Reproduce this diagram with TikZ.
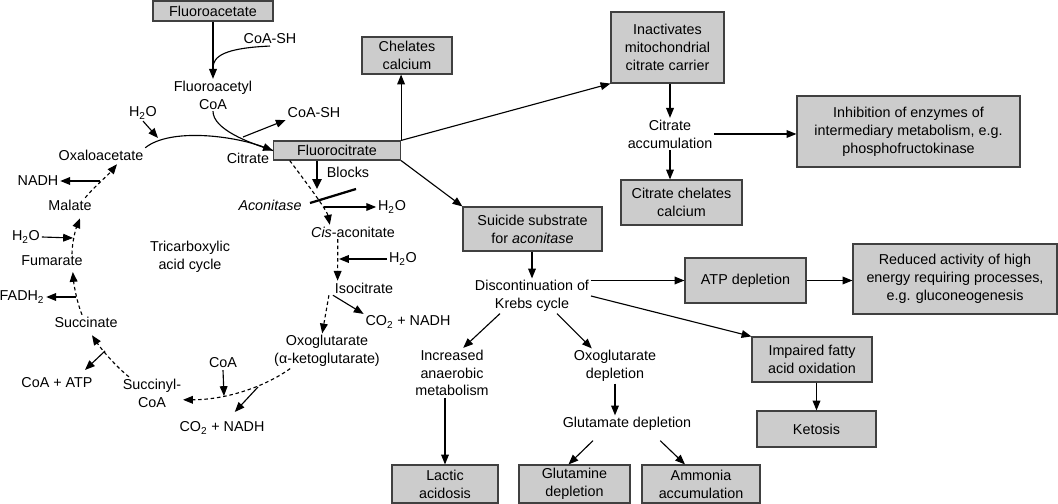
\documentclass[tikz,border=0pt]{standalone}
\usepackage{fontspec}
\setmainfont{Liberation Sans}
\usepackage{tikz}
\usetikzlibrary{arrows.meta}
\definecolor{boxfill}{RGB}{204,204,204}

\begin{document}
\begin{tikzpicture}[x=0.025cm, y=-0.025cm,
			line width=0.8pt,
			every node/.style={font=\fontsize{10.2}{12.7}\selectfont},
			txt/.style={inner sep=1pt, align=center},
			box/.style={draw=black!75, fill=boxfill, inner sep=1pt, align=center},
			arr/.style={-{Triangle[length=7pt,width=5.5pt]}},
			darr/.style={dashed, dash pattern=on 2.5pt off 2pt, -{Triangle[length=7pt,width=5.5pt]}},
			blk/.style={line width=1.6pt, -{Triangle[length=7pt,width=6.5pt]}}]
			\useasboundingbox (0,0) rectangle (1058,504);
			% boxes
			\node (fluoroacetate) at (213,11) [box, minimum width=3cm, minimum height=0.5cm] {Fluoroacetate};
			\node (chelates) at (407,55.5) [box, minimum width=2.25cm, minimum height=0.925cm] {Chelates\\calcium};
			\node (inactivates) at (667.5,47.5) [box, minimum width=2.825cm, minimum height=1.775cm] {Inactivates\\mitochondrial\\citrate carrier};
			\node (citchel) at (681.5,202.5) [box, minimum width=3.025cm, minimum height=1.125cm] {Citrate chelates\\calcium};
			\node (inhibition) at (908.5,131.5) [box, minimum width=5.575cm, minimum height=1.775cm] {Inhibition of enzymes of\\intermediary metabolism, e.g.\\phosphofructokinase};
			\node (fluorocitrate) at (337,150.5) [box, minimum width=3.175cm, minimum height=0.475cm] {Fluorocitrate};
			\node (suicide) at (532.5,229) [box, minimum width=3.475cm, minimum height=1.1cm] {Suicide substrate\\for \textit{aconitase}};
			\node (atp) at (745.5,280.5) [box, minimum width=3.025cm, minimum height=1.125cm] {ATP depletion};
			\node (reduced) at (955,279) [box, minimum width=5.1cm, minimum height=1.75cm] {Reduced activity of high\\energy requiring processes,\\e.g. gluconeogenesis};
			\node (impaired) at (812,359.5) [box, minimum width=3cm, minimum height=1.125cm] {Impaired fatty\\acid oxidation};
			\node (ketosis) at (816.5,429) [box, minimum width=2.975cm, minimum height=0.9cm] {Ketosis};
			\node (lactic) at (445,484) [box, minimum width=2.65cm, minimum height=0.95cm] {Lactic\\acidosis};
			\node (glutamine) at (574.5,484) [box, minimum width=2.775cm, minimum height=0.95cm] {Glutamine\\depletion};
			\node (ammonia) at (701,484) [box, minimum width=2.95cm, minimum height=0.95cm] {Ammonia\\accumulation};
			% plain text
			\node (coash1) at (270,39) [txt] {CoA-SH};
			\node (fluoroacetyl) at (213,95) [txt] {Fluoroacetyl\\CoA};
			\node (coash2) at (314,113) [txt] {CoA-SH};
			\node (h2o1) at (143,113) [txt] {H\textsubscript{2}O};
			\node (oxalo) at (101,155) [txt] {Oxaloacetate};
			\node (citrate) at (248,158) [txt] {Citrate};
			\node (blocks) at (348,172) [txt] {Blocks};
			\node (aconitase) at (270,205) [txt] {\itshape Aconitase};
			\node (h2o2) at (392,207) [txt] {H\textsubscript{2}O};
			\node (cisacon) at (353,232) [txt] {\textit{Cis}-aconitate};
			\node (h2o3) at (403,259) [txt] {H\textsubscript{2}O};
			\node (isocitrate) at (364,288) [txt] {Isocitrate};
			\node (co2a) at (408,322) [txt] {CO\textsubscript{2} + NADH};
			\node (oxoglut) at (327,351) [txt] {Oxoglutarate\\(α-ketoglutarate)};
			\node (coa) at (223,363) [txt] {CoA};
			\node (co2b) at (222,428) [txt] {CO\textsubscript{2} + NADH};
			\node (succinyl) at (152,393) [txt] {Succinyl-\\CoA};
			\node (coaatp) at (57,383) [txt] {CoA + ATP};
			\node (succinate) at (86,322) [txt] {Succinate};
			\node (fadh2) at (22,297) [txt] {FADH\textsubscript{2}};
			\node (fumarate) at (52,261) [txt] {Fumarate};
			\node (h2o4) at (26,237) [txt] {H\textsubscript{2}O};
			\node (malate) at (70,205) [txt] {Malate};
			\node (nadh) at (38,181) [txt] {NADH};
			\node (tca) at (190,257) [txt] {Tricarboxylic\\acid cycle};
			\node (citacc) at (670,134) [txt] {Citrate\\accumulation};
			\node (discont) at (532,296) [txt] {Discontinuation of\\Krebs cycle};
			\node (increased) at (452,373) [txt] {Increased\\anaerobic\\metabolism};
			\node (oxodep) at (615,366) [txt] {Oxoglutarate\\depletion};
			\node (glutdep) at (627,424) [txt] {Glutamate depletion};
			% points on the cycle
			\coordinate (join1) at (213,68);
			\coordinate (arcsplit) at (243,137);
			\coordinate (h2oin) at (158,138);
			\coordinate (blockend) at (317,189);
			\coordinate (acoout) at (324,207);
			\coordinate (cisin) at (339,259);
			\coordinate (co2split) at (258,387);
			\coordinate (coain) at (224,396);
			\coordinate (atpsplit) at (105,351);
			\coordinate (fadhsplit) at (76,297);
			\coordinate (h2oin4) at (73,238);
			\coordinate (nadhsplit) at (100,181);
			% top of the cycle
			\draw[arr] (fluoroacetate) -- (fluoroacetyl);
			\draw (coash1.south) .. controls +(-45,2) and +(0,-12) .. (join1);
			\draw[arr] (oxalo.north east) .. controls +(25,-20) and +(-40,-15) .. (fluorocitrate.west);
			\draw (fluoroacetyl.south) .. controls +(0,18) and +(-25,-8) .. (fluorocitrate.west);
			\draw[arr] (arcsplit) -- (coash2.south west);
			\draw[arr] (h2o1.south) -- (h2oin);
			% aconitase step
			\draw[blk] (blockend |- fluorocitrate.south) -- (blockend);
			\draw[line width=1.6pt] (310,203) -- (356,189);
			\draw[darr] ([xshift=0.42cm]fluorocitrate.south west) .. controls +(15,20) and +(-3,-15) .. ([xshift=-0.58cm]cisacon.north);
			\draw[arr] (acoout) -- (h2o2.west);
			\draw[darr] ([xshift=-0.38cm]cisacon.south) -- ([xshift=-0.66cm]isocitrate.north);
			\draw[arr] (h2o3.west) -- (cisin);
			\draw[arr] (isocitrate.south west) -- (co2a.north west);
			\draw[darr] ([xshift=-0.1cm]isocitrate.south west) -- ([xshift=-0.12cm]oxoglut.north);
			% bottom and left of the cycle
			\draw[darr] ([xshift=-0.92cm]oxoglut.south) .. controls +(-28,20) and +(40,0) .. ([yshift=-0.17cm]succinyl.east);
			\draw[arr] (coa.south) -- (coain);
			\draw[arr] (co2split) -- ([shift={(0.32cm,0.2cm)}]co2b.north);
			\draw[darr] ([xshift=0.2cm]succinyl.north west) .. controls +(-15,-12) and +(8,12) .. ([shift={(0.15cm,-0.15cm)}]succinate.south);
			\draw[arr] (atpsplit) -- ([shift={(0.7cm,0.15cm)}]coaatp.north);
			\draw[darr] ([xshift=-0.1cm]succinate.north) .. controls +(-5,-12) and +(1,12) .. ([shift={(0.52cm,-0.1cm)}]fumarate.south);
			\draw[arr] (fadhsplit) -- (fadh2.east);
			\draw[darr] ([xshift=0.5cm]fumarate.north) .. controls +(0,-12) and +(-4,10) .. ([shift={(0.25cm,-0.15cm)}]malate.south);
			\draw[arr] (h2o4.east) -- (h2oin4);
			\draw[darr] ([xshift=0.38cm]malate.north) .. controls +(8,-10) and +(-10,12) .. ([shift={(0.4cm,-0.05cm)}]oxalo.south);
			\draw[arr] (nadhsplit) -- (nadh.east);
			% consequences
			\draw[arr] (fluorocitrate.north east) -- (fluorocitrate.north east |- chelates.south);
			\draw[arr] (fluorocitrate.north east) -- (inactivates.south west);
			\draw[arr] (fluorocitrate.south east) -- (suicide.north west);
			\draw[arr] (citacc.north |- inactivates.south) -- (citacc.north);
			\draw[arr] (citacc.south) -- (citacc.south |- citchel.north);
			\draw[arr] (citacc.east) -- (citacc.east -| inhibition.west);
			\draw[arr] (discont.north |- suicide.south) -- (discont.north);
			\draw[arr] (discont.north east |- atp.west) -- (atp.west);
			\draw[arr] (atp.east) -- (atp.east -| reduced.west);
			\draw[arr] (discont.east) -- (impaired.north west);
			\draw[arr] (ketosis.north |- impaired.south) -- (ketosis.north);
			\draw[arr] ([xshift=-0.8cm]discont.south) -- ([xshift=0.28cm]increased.north);
			\draw[arr] ([xshift=0.625cm]discont.south) -- ([xshift=-0.58cm]oxodep.north);
			\draw[arr] (lactic.north |- increased.south) -- (lactic.north);
			\draw[arr] (oxodep.south) -- (oxodep.south |- glutdep.north);
			\draw[arr] ([shift={(-0.85cm,-0.2cm)}]glutdep.south) -- ([xshift=-0.15cm]glutamine.north);
			\draw[arr] ([shift={(0.83cm,-0.2cm)}]glutdep.south) -- ([xshift=-0.4cm]ammonia.north);
			\end{tikzpicture}
\end{document}
